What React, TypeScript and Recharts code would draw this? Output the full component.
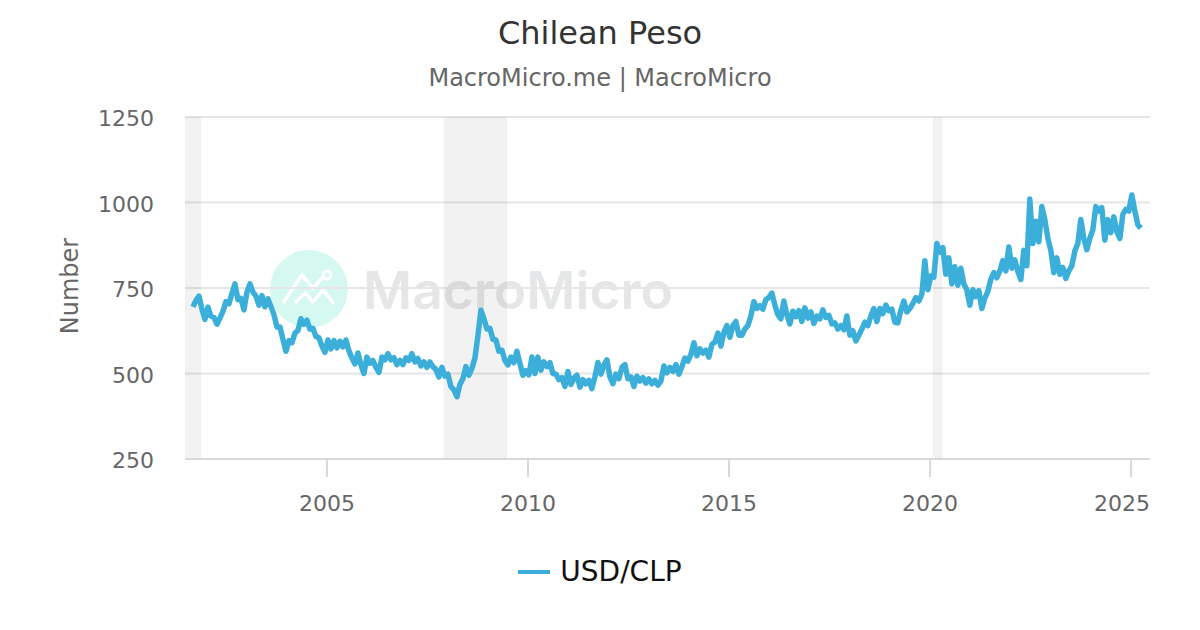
import { CartesianGrid, Legend, Line, LineChart, ReferenceArea, XAxis, YAxis } from "recharts";

const FONT = "'DejaVu Sans', sans-serif";

// USD/CLP, one reading every 0.0746 years from 2001.668
const usdClp = [
  695, 714, 726, 688, 658, 694, 668, 664, 644, 662, 682, 710, 704, 734, 762, 716, 720, 686, 738, 762, 738, 726,
  700, 728, 695, 718, 696, 672, 636, 636, 600, 565, 596, 590, 618, 626, 660, 644, 656, 630, 632, 608, 605, 580,
  562, 598, 572, 596, 575, 594, 578, 598, 566,
  545, 528, 560, 525, 500, 548, 530, 538, 518, 503, 548, 540, 558, 540, 546, 526, 538, 526, 546, 538, 558, 534,
  544, 522, 534, 518, 534, 520, 512, 490, 518, 492, 498, 462, 452, 432, 468, 485, 520, 495, 515, 545, 610, 685,
  660, 630, 632, 600, 598, 565, 568,
  538, 525, 548, 532, 565, 530, 495, 508, 496, 548, 500, 548, 510, 534, 520, 532, 500, 498, 482, 488, 462, 506,
  468, 486, 495, 460, 482, 470, 480, 456, 490, 532, 498, 525, 540, 490, 470, 498, 485, 518, 526, 485, 490, 462,
  492, 478, 488, 472, 484, 470, 480, 466, 478, 522, 502, 518, 506, 526, 498, 520,
  545, 536, 556, 590, 552, 572, 560, 568, 548, 585, 592, 618, 580, 620, 640, 606, 640, 652, 612, 612, 630, 640,
  668, 710, 690, 698, 688, 716, 722, 735, 700, 672, 660, 712, 672, 645, 682, 666, 684, 652, 692, 662, 680, 646,
  668, 660, 686, 664, 670, 645, 648, 630, 640, 628, 668, 612, 625, 595, 612,
  630, 650, 640, 668, 690, 652, 690, 675, 700, 684, 688, 650, 648, 685, 712, 680, 690, 705, 722, 712, 732, 830,
  745, 785, 782, 880, 855, 868, 790, 838, 762, 812, 758, 808, 762, 745, 700, 745, 725, 742, 690, 720, 740, 775,
  795, 780, 800,
  830, 800, 870, 808, 832, 798, 775, 860, 815, 1010, 880, 945, 885, 988, 950, 895, 860, 795, 838, 790, 810, 778,
  800, 815, 858, 880, 950, 895, 862, 895, 920, 988, 975, 985, 890, 950, 912, 958, 915, 895, 965, 980, 975, 1022,
  975, 935, 925,
];

const yTicks = [250, 500, 750, 1000, 1250];
const xTicks = [2005, 2010, 2015, 2020, 2025];
const recessions = [
  [2001.47, 2001.87],
  [2007.9, 2009.48],
  [2020.07, 2020.31],
];

const data = usdClp.map((value, i) => ({ year: 2001.668 + i * 0.0746, usdClp: value }));

function XTick({ x, y, payload }: any) {
  // the last label gets pushed left so it stays inside the plot
  const shift = payload.value === 2025 ? -9 : 0;
  return (
    <text x={x + shift} y={y + 32} textAnchor="middle" fontSize={22} fontFamily={FONT} fill="#666">
      {payload.value}
    </text>
  );
}

function YTick({ x, y, payload }: any) {
  return (
    <text x={x} y={y + 9} textAnchor="end" fontSize={22} fontFamily={FONT} fill="#666">
      {payload.value}
    </text>
  );
}

function LegendRow() {
  return (
    <div style={{ display: "flex", alignItems: "center", justifyContent: "center", fontFamily: FONT, fontSize: 28, color: "#111" }}>
      <span style={{ width: 32, height: 4, background: "#3bafda", marginRight: 10 }} />
      USD/CLP
    </div>
  );
}

function Watermark() {
  return (
    <svg width={1200} height={630} style={{ position: "absolute", left: 0, top: 0 }}>
      <circle cx={309} cy={289} r={39} fill="#d5f8f1" />
      <polyline points="283,303 302,275 313,288 323,277" fill="none" stroke="#fff" strokeWidth={3.5} />
      <polyline points="295,303 305,293 313,302 323,290 334,304" fill="none" stroke="#fff" strokeWidth={3.5} />
      <circle cx={327} cy={275} r={4} fill="none" stroke="#fff" strokeWidth={3} />
      <text x={363} y={309} fontFamily="Inter, sans-serif" fontWeight={600} fontSize={52} fill="#e5e6e8" textLength={310} lengthAdjust="spacingAndGlyphs">
        MacroMicro
      </text>
    </svg>
  );
}

export default function App() {
  return (
    <div style={{ position: "absolute", left: 0, top: 0, width: 1200, height: 630, background: "#fff", overflow: "hidden" }}>
      <Watermark />
      <div style={{ position: "absolute", top: 14, width: 1200, textAlign: "center", fontFamily: FONT, fontSize: 32, color: "#333" }}>
        Chilean Peso
      </div>
      <div style={{ position: "absolute", top: 64, width: 1200, textAlign: "center", fontFamily: FONT, fontSize: 24, color: "#666" }}>
        MacroMicro.me | MacroMicro
      </div>
      <div
        style={{
          position: "absolute",
          left: 70,
          top: 286,
          fontFamily: FONT,
          fontSize: 24,
          color: "#666",
          transform: "translate(-50%, -50%) rotate(-90deg)",
          whiteSpace: "nowrap",
        }}
      >
        Number
      </div>
      <div style={{ position: "absolute", left: 0, top: 0 }}>
        <LineChart width={1200} height={630} data={data} margin={{ top: 117, right: 50, left: 0, bottom: 51 }}>
          <CartesianGrid vertical={false} stroke="#e6e6e6" strokeWidth={2} />
          {recessions.map(([from, to]) => (
            <ReferenceArea key={from} x1={from} x2={to} fill="#000" fillOpacity={0.05} stroke="none" />
          ))}
          <XAxis
            dataKey="year"
            type="number"
            domain={[2001.47, 2025.47]}
            ticks={xTicks}
            height={60}
            tick={<XTick />}
            tickSize={18}
            stroke="#d8d8d8"
            strokeWidth={2}
          />
          <YAxis
            type="number"
            domain={[250, 1250]}
            ticks={yTicks}
            width={185}
            axisLine={false}
            tickLine={false}
            tickMargin={25}
            tick={<YTick />}
          />
          <Legend
            verticalAlign="bottom"
            height={60}
            content={<LegendRow />}
            wrapperStyle={{ top: 555, bottom: "auto", left: 0, width: 1200 }}
          />
          <Line
            dataKey="usdClp"
            name="USD/CLP"
            type="linear"
            stroke="#3bafda"
            strokeWidth={5.5}
            strokeLinejoin="round"
            dot={false}
            isAnimationActive={false}
          />
        </LineChart>
      </div>
    </div>
  );
}
